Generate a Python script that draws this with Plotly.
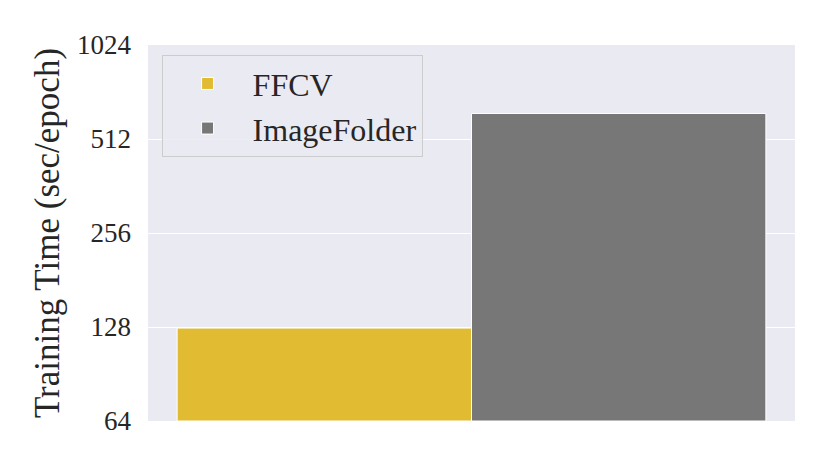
import math
import plotly.graph_objects as go

category = ["ImageNet"]
loaders = ["FFCV", "ImageFolder"]
times = [127, 618]
colors = ["#E1BC33", "#777777"]
y_ticks = [64, 128, 256, 512, 1024]
y_tick_labels = ["64", "128", "256", "512", "1024"]
y_base = 64

fig = go.Figure()
for name, t, c in zip(loaders, times, colors):
    fig.add_trace(go.Bar(
        x=category, y=[t - y_base], base=y_base, name=name,
        legendgroup=name,
        marker=dict(color=c, line=dict(color="white", width=1)),
    ))

font_family = "Liberation Serif"
fig.update_layout(
    width=830, height=475,
    margin=dict(l=140, r=43, t=37, b=62),
    paper_bgcolor="white",
    plot_bgcolor="#EAEAF2",
    barmode="group",
    bargap=0.09,
    bargroupgap=0,
    font=dict(family=font_family, size=27, color="#262626"),
    showlegend=True,
    legend=dict(
        x=0.021, y=0.973, xanchor="left", yanchor="top",
        bgcolor="rgba(234,234,242,0.85)",
        bordercolor="#CCCCCC", borderwidth=1,
        font=dict(family=font_family, size=32, color="#262626"),
        itemwidth=80,
        tracegroupgap=0,
    ),
    xaxis=dict(showticklabels=False, showgrid=False, zeroline=False,
               range=[-0.5, 0.5]),
    yaxis=dict(
        type="log",
        range=[math.log10(64), math.log10(1024)],
        tickvals=y_ticks, ticktext=y_tick_labels,
        showgrid=True, gridcolor="white", gridwidth=1.2,
        zeroline=False,
        tickfont=dict(family=font_family, size=27, color="#262626"),
        ticklabelstandoff=16,
        title=dict(text="Training Time (sec/epoch)",
                   font=dict(family=font_family, size=35, color="#262626"),
                   standoff=6),
        ticks="", ticklen=0,
    ),
)

fig.write_html("out.html")
